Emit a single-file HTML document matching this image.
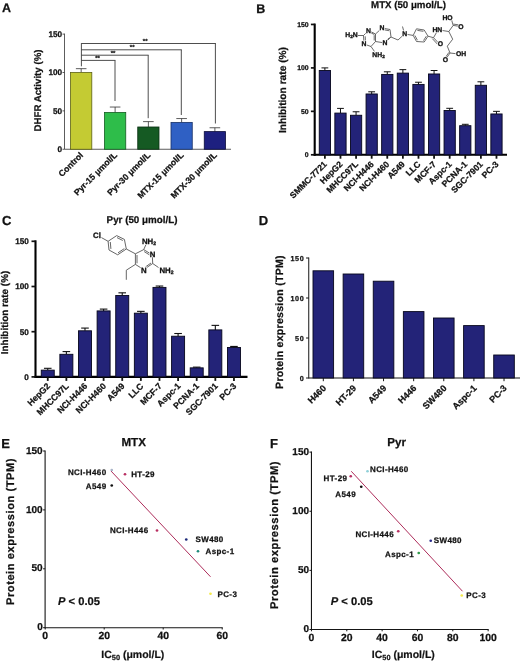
<!DOCTYPE html>
<html lang="en"><head><meta charset="utf-8"><title>Figure</title>
<style>
html,body{margin:0;padding:0;background:#fff;}
svg{display:block;text-rendering:geometricPrecision;font-family:'Liberation Sans', sans-serif;}
</style></head>
<body>
<svg width="520" height="662" viewBox="0 0 520 662">
<rect x="0" y="0" width="520" height="662" fill="#ffffff"/>
<text x="2.00" y="12.00" font-size="12.5" font-weight="bold" text-anchor="start" fill="#111" stroke="#111" stroke-width="0.25" >A</text>
<text x="256.30" y="12.50" font-size="12.5" font-weight="bold" text-anchor="start" fill="#111" stroke="#111" stroke-width="0.25" >B</text>
<text x="2.00" y="225.00" font-size="13" font-weight="bold" text-anchor="start" fill="#111" stroke="#111" stroke-width="0.25" >C</text>
<text x="258.70" y="225.00" font-size="13" font-weight="bold" text-anchor="start" fill="#111" stroke="#111" stroke-width="0.25" >D</text>
<text x="1.30" y="448.00" font-size="13" font-weight="bold" text-anchor="start" fill="#111" stroke="#111" stroke-width="0.25" >E</text>
<text x="270.00" y="448.00" font-size="13" font-weight="bold" text-anchor="start" fill="#111" stroke="#111" stroke-width="0.25" >F</text>
<line x1="64.50" y1="33.62" x2="64.50" y2="149.25" stroke="#333" stroke-width="0.8" />
<line x1="64.50" y1="149.25" x2="231.00" y2="149.25" stroke="#333" stroke-width="0.8" />
<line x1="62.50" y1="149.25" x2="64.50" y2="149.25" stroke="#333" stroke-width="0.8" />
<text x="62.10" y="152.15" font-size="8.2" font-weight="bold" text-anchor="end" fill="#111" stroke="#111" stroke-width="0.25" >0</text>
<line x1="62.50" y1="110.88" x2="64.50" y2="110.88" stroke="#333" stroke-width="0.8" />
<text x="62.10" y="113.78" font-size="8.2" font-weight="bold" text-anchor="end" fill="#111" stroke="#111" stroke-width="0.25" >50</text>
<line x1="62.50" y1="72.50" x2="64.50" y2="72.50" stroke="#333" stroke-width="0.8" />
<text x="62.10" y="75.40" font-size="8.2" font-weight="bold" text-anchor="end" fill="#111" stroke="#111" stroke-width="0.25" >100</text>
<line x1="62.50" y1="34.12" x2="64.50" y2="34.12" stroke="#333" stroke-width="0.8" />
<text x="62.10" y="37.02" font-size="8.2" font-weight="bold" text-anchor="end" fill="#111" stroke="#111" stroke-width="0.25" >150</text>
<text x="40.70" y="90.50" font-size="9.7" font-weight="bold" text-anchor="middle" fill="#111" stroke="#111" stroke-width="0.25" transform="rotate(-90 40.70 90.50)" >DHFR Activity (%)</text>
<line x1="81.17" y1="72.50" x2="81.17" y2="68.66" stroke="#333" stroke-width="0.8" />
<line x1="75.88" y1="68.66" x2="86.47" y2="68.66" stroke="#333" stroke-width="0.8" />
<rect x="70.55" y="72.50" width="21.25" height="76.75" fill="#c4cb33" stroke="#5d6114" stroke-width="0.8"/>
<text x="83.67" y="155.75" font-size="8.6" font-weight="bold" text-anchor="end" fill="#111" stroke="#111" stroke-width="0.25" transform="rotate(-45 83.67 155.75)" >Control</text>
<line x1="115.12" y1="112.41" x2="115.12" y2="107.04" stroke="#333" stroke-width="0.8" />
<line x1="109.83" y1="107.04" x2="120.42" y2="107.04" stroke="#333" stroke-width="0.8" />
<rect x="104.50" y="112.41" width="21.25" height="36.84" fill="#2ebd4a" stroke="#145c22" stroke-width="0.8"/>
<text x="117.62" y="155.75" font-size="8.6" font-weight="bold" text-anchor="end" fill="#111" stroke="#111" stroke-width="0.25" transform="rotate(-45 117.62 155.75)" >Pyr-15 μmol/L</text>
<line x1="148.38" y1="126.99" x2="148.38" y2="121.62" stroke="#333" stroke-width="0.8" />
<line x1="143.07" y1="121.62" x2="153.68" y2="121.62" stroke="#333" stroke-width="0.8" />
<rect x="137.75" y="126.99" width="21.25" height="22.26" fill="#155a23" stroke="#0a2e12" stroke-width="0.8"/>
<text x="150.88" y="155.75" font-size="8.6" font-weight="bold" text-anchor="end" fill="#111" stroke="#111" stroke-width="0.25" transform="rotate(-45 150.88 155.75)" >Pyr-30 μmol/L</text>
<line x1="181.62" y1="122.39" x2="181.62" y2="118.55" stroke="#333" stroke-width="0.8" />
<line x1="176.32" y1="118.55" x2="186.93" y2="118.55" stroke="#333" stroke-width="0.8" />
<rect x="171.00" y="122.39" width="21.25" height="26.86" fill="#2f60c4" stroke="#173066" stroke-width="0.8"/>
<text x="184.12" y="155.75" font-size="8.6" font-weight="bold" text-anchor="end" fill="#111" stroke="#111" stroke-width="0.25" transform="rotate(-45 184.12 155.75)" >MTX-15 μmol/L</text>
<line x1="214.88" y1="131.60" x2="214.88" y2="127.76" stroke="#333" stroke-width="0.8" />
<line x1="209.57" y1="127.76" x2="220.18" y2="127.76" stroke="#333" stroke-width="0.8" />
<rect x="204.25" y="131.60" width="21.25" height="17.65" fill="#1d2080" stroke="#0c0d3a" stroke-width="0.8"/>
<text x="217.38" y="155.75" font-size="8.6" font-weight="bold" text-anchor="end" fill="#111" stroke="#111" stroke-width="0.25" transform="rotate(-45 217.38 155.75)" >MTX-30 μmol/L</text>
<line x1="81.40" y1="43.10" x2="81.40" y2="66.30" stroke="#3a3a3a" stroke-width="0.9" />
<line x1="81.40" y1="60.40" x2="115.45" y2="60.40" stroke="#3a3a3a" stroke-width="0.9" />
<line x1="115.00" y1="60.40" x2="115.00" y2="101.00" stroke="#3a3a3a" stroke-width="0.9" />
<line x1="81.40" y1="55.20" x2="148.65" y2="55.20" stroke="#3a3a3a" stroke-width="0.9" />
<line x1="148.20" y1="55.20" x2="148.20" y2="118.20" stroke="#3a3a3a" stroke-width="0.9" />
<line x1="81.40" y1="49.80" x2="181.75" y2="49.80" stroke="#3a3a3a" stroke-width="0.9" />
<line x1="181.30" y1="49.80" x2="181.30" y2="115.00" stroke="#3a3a3a" stroke-width="0.9" />
<line x1="81.40" y1="43.50" x2="215.85" y2="43.50" stroke="#3a3a3a" stroke-width="0.9" />
<line x1="215.40" y1="43.50" x2="215.40" y2="123.50" stroke="#3a3a3a" stroke-width="0.9" />
<text x="97.50" y="59.80" font-size="6" font-weight="bold" text-anchor="middle" fill="#111" stroke="#111" stroke-width="0.25" >**</text>
<text x="113.00" y="54.60" font-size="6" font-weight="bold" text-anchor="middle" fill="#111" stroke="#111" stroke-width="0.25" >**</text>
<text x="132.20" y="49.20" font-size="6" font-weight="bold" text-anchor="middle" fill="#111" stroke="#111" stroke-width="0.25" >**</text>
<text x="145.20" y="42.60" font-size="6" font-weight="bold" text-anchor="middle" fill="#111" stroke="#111" stroke-width="0.25" >**</text>
<line x1="314.70" y1="23.55" x2="314.70" y2="155.85" stroke="#000" stroke-width="2.1" />
<line x1="313.65" y1="154.80" x2="507.00" y2="154.80" stroke="#000" stroke-width="2.1" />
<line x1="310.90" y1="154.80" x2="314.70" y2="154.80" stroke="#111" stroke-width="1.7" />
<text x="308.70" y="157.30" font-size="6.9" font-weight="bold" text-anchor="end" fill="#111" stroke="#111" stroke-width="0.25" >0</text>
<line x1="310.90" y1="111.35" x2="314.70" y2="111.35" stroke="#111" stroke-width="1.7" />
<text x="308.70" y="113.85" font-size="6.9" font-weight="bold" text-anchor="end" fill="#111" stroke="#111" stroke-width="0.25" >50</text>
<line x1="310.90" y1="67.90" x2="314.70" y2="67.90" stroke="#111" stroke-width="1.7" />
<text x="308.70" y="70.40" font-size="6.9" font-weight="bold" text-anchor="end" fill="#111" stroke="#111" stroke-width="0.25" >100</text>
<line x1="310.90" y1="24.45" x2="314.70" y2="24.45" stroke="#111" stroke-width="1.7" />
<text x="308.70" y="26.95" font-size="6.9" font-weight="bold" text-anchor="end" fill="#111" stroke="#111" stroke-width="0.25" >150</text>
<text x="286.30" y="90.00" font-size="10.2" font-weight="bold" text-anchor="middle" fill="#111" stroke="#111" stroke-width="0.25" transform="rotate(-90 286.30 90.00)" >Inhibition rate (%)</text>
<text x="408.50" y="7.60" font-size="9.7" font-weight="bold" text-anchor="middle" fill="#111" stroke="#111" stroke-width="0.25" >MTX (50 μmol/L)</text>
<line x1="324.88" y1="70.51" x2="324.88" y2="67.90" stroke="#111" stroke-width="1" />
<line x1="321.48" y1="67.90" x2="328.27" y2="67.90" stroke="#111" stroke-width="1" />
<rect x="319.25" y="70.51" width="11.25" height="84.29" fill="#232378" stroke="#06061c" stroke-width="0.9"/>
<line x1="324.88" y1="154.80" x2="324.88" y2="158.70" stroke="#111" stroke-width="1.8" />
<text x="327.48" y="164.80" font-size="8.6" font-weight="bold" text-anchor="end" fill="#111" stroke="#111" stroke-width="0.25" transform="rotate(-45 327.48 164.80)" >SMMC-7721</text>
<line x1="340.48" y1="113.09" x2="340.48" y2="108.40" stroke="#111" stroke-width="1" />
<line x1="337.08" y1="108.40" x2="343.88" y2="108.40" stroke="#111" stroke-width="1" />
<rect x="334.85" y="113.09" width="11.25" height="41.71" fill="#232378" stroke="#06061c" stroke-width="0.9"/>
<line x1="340.48" y1="154.80" x2="340.48" y2="158.70" stroke="#111" stroke-width="1.8" />
<text x="343.08" y="164.80" font-size="8.6" font-weight="bold" text-anchor="end" fill="#111" stroke="#111" stroke-width="0.25" transform="rotate(-45 343.08 164.80)" >HepG2</text>
<line x1="356.07" y1="115.26" x2="356.07" y2="111.78" stroke="#111" stroke-width="1" />
<line x1="352.68" y1="111.78" x2="359.47" y2="111.78" stroke="#111" stroke-width="1" />
<rect x="350.45" y="115.26" width="11.25" height="39.54" fill="#232378" stroke="#06061c" stroke-width="0.9"/>
<line x1="356.07" y1="154.80" x2="356.07" y2="158.70" stroke="#111" stroke-width="1.8" />
<text x="358.68" y="164.80" font-size="8.6" font-weight="bold" text-anchor="end" fill="#111" stroke="#111" stroke-width="0.25" transform="rotate(-45 358.68 164.80)" >MHCC97L</text>
<line x1="371.68" y1="93.97" x2="371.68" y2="91.80" stroke="#111" stroke-width="1" />
<line x1="368.28" y1="91.80" x2="375.07" y2="91.80" stroke="#111" stroke-width="1" />
<rect x="366.05" y="93.97" width="11.25" height="60.83" fill="#232378" stroke="#06061c" stroke-width="0.9"/>
<line x1="371.68" y1="154.80" x2="371.68" y2="158.70" stroke="#111" stroke-width="1.8" />
<text x="374.28" y="164.80" font-size="8.6" font-weight="bold" text-anchor="end" fill="#111" stroke="#111" stroke-width="0.25" transform="rotate(-45 374.28 164.80)" >NCI-H446</text>
<line x1="387.27" y1="74.42" x2="387.27" y2="71.81" stroke="#111" stroke-width="1" />
<line x1="383.88" y1="71.81" x2="390.67" y2="71.81" stroke="#111" stroke-width="1" />
<rect x="381.65" y="74.42" width="11.25" height="80.38" fill="#232378" stroke="#06061c" stroke-width="0.9"/>
<line x1="387.27" y1="154.80" x2="387.27" y2="158.70" stroke="#111" stroke-width="1.8" />
<text x="389.88" y="164.80" font-size="8.6" font-weight="bold" text-anchor="end" fill="#111" stroke="#111" stroke-width="0.25" transform="rotate(-45 389.88 164.80)" >NCI-H460</text>
<line x1="402.88" y1="73.11" x2="402.88" y2="69.64" stroke="#111" stroke-width="1" />
<line x1="399.48" y1="69.64" x2="406.27" y2="69.64" stroke="#111" stroke-width="1" />
<rect x="397.25" y="73.11" width="11.25" height="81.69" fill="#232378" stroke="#06061c" stroke-width="0.9"/>
<line x1="402.88" y1="154.80" x2="402.88" y2="158.70" stroke="#111" stroke-width="1.8" />
<text x="405.48" y="164.80" font-size="8.6" font-weight="bold" text-anchor="end" fill="#111" stroke="#111" stroke-width="0.25" transform="rotate(-45 405.48 164.80)" >A549</text>
<line x1="418.48" y1="84.41" x2="418.48" y2="82.24" stroke="#111" stroke-width="1" />
<line x1="415.08" y1="82.24" x2="421.88" y2="82.24" stroke="#111" stroke-width="1" />
<rect x="412.85" y="84.41" width="11.25" height="70.39" fill="#232378" stroke="#06061c" stroke-width="0.9"/>
<line x1="418.48" y1="154.80" x2="418.48" y2="158.70" stroke="#111" stroke-width="1.8" />
<text x="421.08" y="164.80" font-size="8.6" font-weight="bold" text-anchor="end" fill="#111" stroke="#111" stroke-width="0.25" transform="rotate(-45 421.08 164.80)" >LLC</text>
<line x1="434.07" y1="73.98" x2="434.07" y2="70.51" stroke="#111" stroke-width="1" />
<line x1="430.68" y1="70.51" x2="437.47" y2="70.51" stroke="#111" stroke-width="1" />
<rect x="428.45" y="73.98" width="11.25" height="80.82" fill="#232378" stroke="#06061c" stroke-width="0.9"/>
<line x1="434.07" y1="154.80" x2="434.07" y2="158.70" stroke="#111" stroke-width="1.8" />
<text x="436.68" y="164.80" font-size="8.6" font-weight="bold" text-anchor="end" fill="#111" stroke="#111" stroke-width="0.25" transform="rotate(-45 436.68 164.80)" >MCF-7</text>
<line x1="449.68" y1="110.48" x2="449.68" y2="108.31" stroke="#111" stroke-width="1" />
<line x1="446.28" y1="108.31" x2="453.07" y2="108.31" stroke="#111" stroke-width="1" />
<rect x="444.05" y="110.48" width="11.25" height="44.32" fill="#232378" stroke="#06061c" stroke-width="0.9"/>
<line x1="449.68" y1="154.80" x2="449.68" y2="158.70" stroke="#111" stroke-width="1.8" />
<text x="452.28" y="164.80" font-size="8.6" font-weight="bold" text-anchor="end" fill="#111" stroke="#111" stroke-width="0.25" transform="rotate(-45 452.28 164.80)" >Aspc-1</text>
<line x1="465.27" y1="125.69" x2="465.27" y2="124.30" stroke="#111" stroke-width="1" />
<line x1="461.88" y1="124.30" x2="468.67" y2="124.30" stroke="#111" stroke-width="1" />
<rect x="459.65" y="125.69" width="11.25" height="29.11" fill="#232378" stroke="#06061c" stroke-width="0.9"/>
<line x1="465.27" y1="154.80" x2="465.27" y2="158.70" stroke="#111" stroke-width="1.8" />
<text x="467.88" y="164.80" font-size="8.6" font-weight="bold" text-anchor="end" fill="#111" stroke="#111" stroke-width="0.25" transform="rotate(-45 467.88 164.80)" >PCNA-1</text>
<line x1="480.88" y1="85.28" x2="480.88" y2="81.80" stroke="#111" stroke-width="1" />
<line x1="477.48" y1="81.80" x2="484.27" y2="81.80" stroke="#111" stroke-width="1" />
<rect x="475.25" y="85.28" width="11.25" height="69.52" fill="#232378" stroke="#06061c" stroke-width="0.9"/>
<line x1="480.88" y1="154.80" x2="480.88" y2="158.70" stroke="#111" stroke-width="1.8" />
<text x="483.48" y="164.80" font-size="8.6" font-weight="bold" text-anchor="end" fill="#111" stroke="#111" stroke-width="0.25" transform="rotate(-45 483.48 164.80)" >SGC-7901</text>
<line x1="496.48" y1="113.96" x2="496.48" y2="111.35" stroke="#111" stroke-width="1" />
<line x1="493.08" y1="111.35" x2="499.88" y2="111.35" stroke="#111" stroke-width="1" />
<rect x="490.85" y="113.96" width="11.25" height="40.84" fill="#232378" stroke="#06061c" stroke-width="0.9"/>
<line x1="496.48" y1="154.80" x2="496.48" y2="158.70" stroke="#111" stroke-width="1.8" />
<text x="499.08" y="164.80" font-size="8.6" font-weight="bold" text-anchor="end" fill="#111" stroke="#111" stroke-width="0.25" transform="rotate(-45 499.08 164.80)" >PC-3</text>
<line x1="363.50" y1="35.50" x2="368.50" y2="30.50" stroke="#444" stroke-width="0.8" />
<line x1="368.50" y1="30.50" x2="375.50" y2="34.00" stroke="#444" stroke-width="0.8" />
<line x1="375.50" y1="34.00" x2="375.50" y2="41.50" stroke="#444" stroke-width="0.8" />
<line x1="375.50" y1="41.50" x2="371.00" y2="46.50" stroke="#444" stroke-width="0.8" />
<line x1="371.00" y1="46.50" x2="364.00" y2="44.00" stroke="#444" stroke-width="0.8" />
<line x1="364.00" y1="44.00" x2="363.50" y2="35.50" stroke="#444" stroke-width="0.8" />
<line x1="375.50" y1="34.00" x2="382.00" y2="28.00" stroke="#444" stroke-width="0.8" />
<line x1="382.00" y1="28.00" x2="390.00" y2="29.50" stroke="#444" stroke-width="0.8" />
<line x1="390.00" y1="29.50" x2="391.00" y2="37.00" stroke="#444" stroke-width="0.8" />
<line x1="391.00" y1="37.00" x2="385.00" y2="43.00" stroke="#444" stroke-width="0.8" />
<line x1="385.00" y1="43.00" x2="375.50" y2="41.50" stroke="#444" stroke-width="0.8" />
<line x1="358.00" y1="35.50" x2="363.50" y2="35.50" stroke="#444" stroke-width="0.8" />
<line x1="371.00" y1="46.50" x2="374.50" y2="51.50" stroke="#444" stroke-width="0.8" />
<line x1="391.00" y1="37.00" x2="398.00" y2="40.00" stroke="#444" stroke-width="0.8" />
<line x1="398.00" y1="40.00" x2="404.50" y2="34.00" stroke="#444" stroke-width="0.8" />
<line x1="404.50" y1="34.00" x2="402.50" y2="26.50" stroke="#444" stroke-width="0.8" />
<line x1="365.20" y1="36.30" x2="365.50" y2="42.60" stroke="#444" stroke-width="0.8" />
<line x1="374.20" y1="35.20" x2="374.20" y2="40.50" stroke="#444" stroke-width="0.8" />
<line x1="383.00" y1="29.60" x2="389.00" y2="30.70" stroke="#444" stroke-width="0.8" />
<line x1="389.60" y1="37.50" x2="385.20" y2="41.60" stroke="#444" stroke-width="0.8" />
<line x1="369.50" y1="32.20" x2="374.30" y2="34.50" stroke="#444" stroke-width="0.8" />
<line x1="413.20" y1="35.40" x2="416.50" y2="28.80" stroke="#444" stroke-width="0.8" />
<line x1="416.50" y1="28.80" x2="424.20" y2="30.00" stroke="#444" stroke-width="0.8" />
<line x1="424.20" y1="30.00" x2="428.00" y2="36.20" stroke="#444" stroke-width="0.8" />
<line x1="428.00" y1="36.20" x2="424.20" y2="42.00" stroke="#444" stroke-width="0.8" />
<line x1="424.20" y1="42.00" x2="416.50" y2="41.50" stroke="#444" stroke-width="0.8" />
<line x1="416.50" y1="41.50" x2="413.20" y2="35.40" stroke="#444" stroke-width="0.8" />
<line x1="417.40" y1="30.40" x2="423.40" y2="31.30" stroke="#444" stroke-width="0.8" />
<line x1="426.30" y1="36.20" x2="423.50" y2="40.60" stroke="#444" stroke-width="0.8" />
<line x1="414.90" y1="35.50" x2="417.40" y2="40.20" stroke="#444" stroke-width="0.8" />
<line x1="404.50" y1="34.00" x2="413.20" y2="35.40" stroke="#444" stroke-width="0.8" />
<line x1="428.00" y1="36.20" x2="433.50" y2="37.70" stroke="#444" stroke-width="0.8" />
<line x1="433.50" y1="37.70" x2="439.00" y2="43.50" stroke="#444" stroke-width="0.8" />
<line x1="432.30" y1="38.60" x2="437.60" y2="44.30" stroke="#444" stroke-width="0.8" />
<line x1="433.50" y1="37.70" x2="436.50" y2="32.50" stroke="#444" stroke-width="0.8" />
<line x1="441.00" y1="30.30" x2="448.80" y2="31.50" stroke="#444" stroke-width="0.8" />
<line x1="448.80" y1="31.50" x2="453.20" y2="25.40" stroke="#444" stroke-width="0.8" />
<line x1="453.20" y1="25.40" x2="451.60" y2="20.00" stroke="#444" stroke-width="0.8" />
<line x1="453.20" y1="25.40" x2="459.50" y2="26.40" stroke="#444" stroke-width="0.8" />
<line x1="453.40" y1="24.10" x2="459.60" y2="25.00" stroke="#444" stroke-width="0.8" />
<line x1="448.80" y1="31.50" x2="452.70" y2="39.20" stroke="#444" stroke-width="0.8" />
<line x1="452.70" y1="39.20" x2="447.30" y2="46.20" stroke="#444" stroke-width="0.8" />
<line x1="447.30" y1="46.20" x2="450.00" y2="53.00" stroke="#444" stroke-width="0.8" />
<line x1="450.00" y1="53.00" x2="457.00" y2="53.80" stroke="#444" stroke-width="0.8" />
<line x1="450.00" y1="53.00" x2="446.20" y2="58.50" stroke="#444" stroke-width="0.8" />
<line x1="448.90" y1="52.40" x2="445.20" y2="57.80" stroke="#444" stroke-width="0.8" />
<text x="368.50" y="32.50" font-size="6.8" font-weight="bold" text-anchor="middle" fill="#fff" stroke="#fff" stroke-width="1.6">N</text>
<text x="368.50" y="32.50" font-size="6.8" font-weight="bold" text-anchor="middle" fill="#111" stroke="#111" stroke-width="0.3">N</text>
<text x="364.00" y="46.00" font-size="6.8" font-weight="bold" text-anchor="middle" fill="#fff" stroke="#fff" stroke-width="1.6">N</text>
<text x="364.00" y="46.00" font-size="6.8" font-weight="bold" text-anchor="middle" fill="#111" stroke="#111" stroke-width="0.3">N</text>
<text x="382.00" y="30.00" font-size="6.8" font-weight="bold" text-anchor="middle" fill="#fff" stroke="#fff" stroke-width="1.6">N</text>
<text x="382.00" y="30.00" font-size="6.8" font-weight="bold" text-anchor="middle" fill="#111" stroke="#111" stroke-width="0.3">N</text>
<text x="385.00" y="45.00" font-size="6.8" font-weight="bold" text-anchor="middle" fill="#fff" stroke="#fff" stroke-width="1.6">N</text>
<text x="385.00" y="45.00" font-size="6.8" font-weight="bold" text-anchor="middle" fill="#111" stroke="#111" stroke-width="0.3">N</text>
<text x="351.50" y="37.00" font-size="6.8" font-weight="bold" text-anchor="middle" fill="#fff" stroke="#fff" stroke-width="1.6">H<tspan font-size="4.6" dy="1.2">2</tspan><tspan dy="-1.2">N</tspan></text>
<text x="351.50" y="37.00" font-size="6.8" font-weight="bold" text-anchor="middle" fill="#111" stroke="#111" stroke-width="0.3">H<tspan font-size="4.6" dy="1.2">2</tspan><tspan dy="-1.2">N</tspan></text>
<text x="378.50" y="57.00" font-size="6.8" font-weight="bold" text-anchor="middle" fill="#fff" stroke="#fff" stroke-width="1.6">NH<tspan font-size="4.6" dy="1.2">2</tspan></text>
<text x="378.50" y="57.00" font-size="6.8" font-weight="bold" text-anchor="middle" fill="#111" stroke="#111" stroke-width="0.3">NH<tspan font-size="4.6" dy="1.2">2</tspan></text>
<text x="404.80" y="36.00" font-size="6.8" font-weight="bold" text-anchor="middle" fill="#fff" stroke="#fff" stroke-width="1.6">N</text>
<text x="404.80" y="36.00" font-size="6.8" font-weight="bold" text-anchor="middle" fill="#111" stroke="#111" stroke-width="0.3">N</text>
<text x="437.30" y="32.00" font-size="6.8" font-weight="bold" text-anchor="middle" fill="#fff" stroke="#fff" stroke-width="1.6">HN</text>
<text x="437.30" y="32.00" font-size="6.8" font-weight="bold" text-anchor="middle" fill="#111" stroke="#111" stroke-width="0.3">HN</text>
<text x="440.30" y="46.30" font-size="6.8" font-weight="bold" text-anchor="middle" fill="#fff" stroke="#fff" stroke-width="1.6">O</text>
<text x="440.30" y="46.30" font-size="6.8" font-weight="bold" text-anchor="middle" fill="#111" stroke="#111" stroke-width="0.3">O</text>
<text x="447.50" y="19.70" font-size="6.8" font-weight="bold" text-anchor="middle" fill="#fff" stroke="#fff" stroke-width="1.6">HO</text>
<text x="447.50" y="19.70" font-size="6.8" font-weight="bold" text-anchor="middle" fill="#111" stroke="#111" stroke-width="0.3">HO</text>
<text x="461.00" y="28.60" font-size="6.8" font-weight="bold" text-anchor="middle" fill="#fff" stroke="#fff" stroke-width="1.6">O</text>
<text x="461.00" y="28.60" font-size="6.8" font-weight="bold" text-anchor="middle" fill="#111" stroke="#111" stroke-width="0.3">O</text>
<text x="461.00" y="55.80" font-size="6.8" font-weight="bold" text-anchor="middle" fill="#fff" stroke="#fff" stroke-width="1.6">OH</text>
<text x="461.00" y="55.80" font-size="6.8" font-weight="bold" text-anchor="middle" fill="#111" stroke="#111" stroke-width="0.3">OH</text>
<text x="445.30" y="61.50" font-size="6.8" font-weight="bold" text-anchor="middle" fill="#fff" stroke="#fff" stroke-width="1.6">O</text>
<text x="445.30" y="61.50" font-size="6.8" font-weight="bold" text-anchor="middle" fill="#111" stroke="#111" stroke-width="0.3">O</text>
<line x1="35.50" y1="240.30" x2="35.50" y2="377.90" stroke="#000" stroke-width="2.1" />
<line x1="34.50" y1="376.90" x2="247.50" y2="376.90" stroke="#000" stroke-width="2.1" />
<line x1="31.50" y1="376.90" x2="35.50" y2="376.90" stroke="#111" stroke-width="1.7" />
<text x="28.90" y="379.80" font-size="8.2" font-weight="bold" text-anchor="end" fill="#111" stroke="#111" stroke-width="0.25" >0</text>
<line x1="31.50" y1="331.70" x2="35.50" y2="331.70" stroke="#111" stroke-width="1.7" />
<text x="28.90" y="334.60" font-size="8.2" font-weight="bold" text-anchor="end" fill="#111" stroke="#111" stroke-width="0.25" >50</text>
<line x1="31.50" y1="286.50" x2="35.50" y2="286.50" stroke="#111" stroke-width="1.7" />
<text x="28.90" y="289.40" font-size="8.2" font-weight="bold" text-anchor="end" fill="#111" stroke="#111" stroke-width="0.25" >100</text>
<line x1="31.50" y1="241.30" x2="35.50" y2="241.30" stroke="#111" stroke-width="1.7" />
<text x="28.90" y="244.20" font-size="8.2" font-weight="bold" text-anchor="end" fill="#111" stroke="#111" stroke-width="0.25" >150</text>
<text x="8.40" y="312.50" font-size="9.9" font-weight="bold" text-anchor="middle" fill="#111" stroke="#111" stroke-width="0.25" transform="rotate(-90 8.40 312.50)" >Inhibition rate (%)</text>
<text x="142.00" y="223.30" font-size="9.8" font-weight="bold" text-anchor="middle" fill="#111" stroke="#111" stroke-width="0.25" >Pyr (50 μmol/L)</text>
<line x1="47.75" y1="370.12" x2="47.75" y2="368.31" stroke="#111" stroke-width="1.1" />
<line x1="43.95" y1="368.31" x2="51.55" y2="368.31" stroke="#111" stroke-width="1.1" />
<rect x="41.25" y="370.12" width="13.00" height="6.78" fill="#232378" stroke="#06061c" stroke-width="0.9"/>
<line x1="47.75" y1="376.90" x2="47.75" y2="380.90" stroke="#111" stroke-width="1.8" />
<text x="50.75" y="386.70" font-size="8.7" font-weight="bold" text-anchor="end" fill="#111" stroke="#111" stroke-width="0.25" transform="rotate(-45 50.75 386.70)" >HepG2</text>
<line x1="66.37" y1="354.30" x2="66.37" y2="351.59" stroke="#111" stroke-width="1.1" />
<line x1="62.57" y1="351.59" x2="70.17" y2="351.59" stroke="#111" stroke-width="1.1" />
<rect x="59.87" y="354.30" width="13.00" height="22.60" fill="#232378" stroke="#06061c" stroke-width="0.9"/>
<line x1="66.37" y1="376.90" x2="66.37" y2="380.90" stroke="#111" stroke-width="1.8" />
<text x="69.37" y="386.70" font-size="8.7" font-weight="bold" text-anchor="end" fill="#111" stroke="#111" stroke-width="0.25" transform="rotate(-45 69.37 386.70)" >MHCC97L</text>
<line x1="84.99" y1="330.80" x2="84.99" y2="328.08" stroke="#111" stroke-width="1.1" />
<line x1="81.19" y1="328.08" x2="88.79" y2="328.08" stroke="#111" stroke-width="1.1" />
<rect x="78.49" y="330.80" width="13.00" height="46.10" fill="#232378" stroke="#06061c" stroke-width="0.9"/>
<line x1="84.99" y1="376.90" x2="84.99" y2="380.90" stroke="#111" stroke-width="1.8" />
<text x="87.99" y="386.70" font-size="8.7" font-weight="bold" text-anchor="end" fill="#111" stroke="#111" stroke-width="0.25" transform="rotate(-45 87.99 386.70)" >NCI-H446</text>
<line x1="103.61" y1="310.91" x2="103.61" y2="309.10" stroke="#111" stroke-width="1.1" />
<line x1="99.81" y1="309.10" x2="107.41" y2="309.10" stroke="#111" stroke-width="1.1" />
<rect x="97.11" y="310.91" width="13.00" height="65.99" fill="#232378" stroke="#06061c" stroke-width="0.9"/>
<line x1="103.61" y1="376.90" x2="103.61" y2="380.90" stroke="#111" stroke-width="1.8" />
<text x="106.61" y="386.70" font-size="8.7" font-weight="bold" text-anchor="end" fill="#111" stroke="#111" stroke-width="0.25" transform="rotate(-45 106.61 386.70)" >NCI-H460</text>
<line x1="122.23" y1="295.54" x2="122.23" y2="292.83" stroke="#111" stroke-width="1.1" />
<line x1="118.43" y1="292.83" x2="126.03" y2="292.83" stroke="#111" stroke-width="1.1" />
<rect x="115.73" y="295.54" width="13.00" height="81.36" fill="#232378" stroke="#06061c" stroke-width="0.9"/>
<line x1="122.23" y1="376.90" x2="122.23" y2="380.90" stroke="#111" stroke-width="1.8" />
<text x="125.23" y="386.70" font-size="8.7" font-weight="bold" text-anchor="end" fill="#111" stroke="#111" stroke-width="0.25" transform="rotate(-45 125.23 386.70)" >A549</text>
<line x1="140.85" y1="313.17" x2="140.85" y2="311.36" stroke="#111" stroke-width="1.1" />
<line x1="137.05" y1="311.36" x2="144.65" y2="311.36" stroke="#111" stroke-width="1.1" />
<rect x="134.35" y="313.17" width="13.00" height="63.73" fill="#232378" stroke="#06061c" stroke-width="0.9"/>
<line x1="140.85" y1="376.90" x2="140.85" y2="380.90" stroke="#111" stroke-width="1.8" />
<text x="143.85" y="386.70" font-size="8.7" font-weight="bold" text-anchor="end" fill="#111" stroke="#111" stroke-width="0.25" transform="rotate(-45 143.85 386.70)" >LLC</text>
<line x1="159.47" y1="287.40" x2="159.47" y2="286.05" stroke="#111" stroke-width="1.1" />
<line x1="155.67" y1="286.05" x2="163.27" y2="286.05" stroke="#111" stroke-width="1.1" />
<rect x="152.97" y="287.40" width="13.00" height="89.50" fill="#232378" stroke="#06061c" stroke-width="0.9"/>
<line x1="159.47" y1="376.90" x2="159.47" y2="380.90" stroke="#111" stroke-width="1.8" />
<text x="162.47" y="386.70" font-size="8.7" font-weight="bold" text-anchor="end" fill="#111" stroke="#111" stroke-width="0.25" transform="rotate(-45 162.47 386.70)" >MCF-7</text>
<line x1="178.09" y1="336.22" x2="178.09" y2="333.51" stroke="#111" stroke-width="1.1" />
<line x1="174.29" y1="333.51" x2="181.89" y2="333.51" stroke="#111" stroke-width="1.1" />
<rect x="171.59" y="336.22" width="13.00" height="40.68" fill="#232378" stroke="#06061c" stroke-width="0.9"/>
<line x1="178.09" y1="376.90" x2="178.09" y2="380.90" stroke="#111" stroke-width="1.8" />
<text x="181.09" y="386.70" font-size="8.7" font-weight="bold" text-anchor="end" fill="#111" stroke="#111" stroke-width="0.25" transform="rotate(-45 181.09 386.70)" >Aspc-1</text>
<line x1="196.71" y1="367.86" x2="196.71" y2="367.14" stroke="#111" stroke-width="1.1" />
<line x1="192.91" y1="367.14" x2="200.51" y2="367.14" stroke="#111" stroke-width="1.1" />
<rect x="190.21" y="367.86" width="13.00" height="9.04" fill="#232378" stroke="#06061c" stroke-width="0.9"/>
<line x1="196.71" y1="376.90" x2="196.71" y2="380.90" stroke="#111" stroke-width="1.8" />
<text x="199.71" y="386.70" font-size="8.7" font-weight="bold" text-anchor="end" fill="#111" stroke="#111" stroke-width="0.25" transform="rotate(-45 199.71 386.70)" >PCNA-1</text>
<line x1="215.33" y1="329.89" x2="215.33" y2="325.37" stroke="#111" stroke-width="1.1" />
<line x1="211.53" y1="325.37" x2="219.13" y2="325.37" stroke="#111" stroke-width="1.1" />
<rect x="208.83" y="329.89" width="13.00" height="47.01" fill="#232378" stroke="#06061c" stroke-width="0.9"/>
<line x1="215.33" y1="376.90" x2="215.33" y2="380.90" stroke="#111" stroke-width="1.8" />
<text x="218.33" y="386.70" font-size="8.7" font-weight="bold" text-anchor="end" fill="#111" stroke="#111" stroke-width="0.25" transform="rotate(-45 218.33 386.70)" >SGC-7901</text>
<line x1="233.95" y1="347.52" x2="233.95" y2="346.44" stroke="#111" stroke-width="1.1" />
<line x1="230.15" y1="346.44" x2="237.75" y2="346.44" stroke="#111" stroke-width="1.1" />
<rect x="227.45" y="347.52" width="13.00" height="29.38" fill="#232378" stroke="#06061c" stroke-width="0.9"/>
<line x1="233.95" y1="376.90" x2="233.95" y2="380.90" stroke="#111" stroke-width="1.8" />
<text x="236.95" y="386.70" font-size="8.7" font-weight="bold" text-anchor="end" fill="#111" stroke="#111" stroke-width="0.25" transform="rotate(-45 236.95 386.70)" >PC-3</text>
<line x1="108.10" y1="241.30" x2="116.70" y2="235.60" stroke="#555" stroke-width="0.9" />
<line x1="116.70" y1="235.60" x2="124.40" y2="239.40" stroke="#555" stroke-width="0.9" />
<line x1="124.40" y1="239.40" x2="126.30" y2="249.00" stroke="#555" stroke-width="0.9" />
<line x1="126.30" y1="249.00" x2="117.70" y2="254.80" stroke="#555" stroke-width="0.9" />
<line x1="117.70" y1="254.80" x2="109.00" y2="250.00" stroke="#555" stroke-width="0.9" />
<line x1="109.00" y1="250.00" x2="108.10" y2="241.30" stroke="#555" stroke-width="0.9" />
<line x1="110.30" y1="242.00" x2="110.90" y2="248.90" stroke="#555" stroke-width="0.9" />
<line x1="117.00" y1="237.60" x2="122.80" y2="240.50" stroke="#555" stroke-width="0.9" />
<line x1="124.30" y1="248.60" x2="118.00" y2="252.80" stroke="#555" stroke-width="0.9" />
<line x1="101.30" y1="237.50" x2="108.10" y2="241.30" stroke="#555" stroke-width="0.9" />
<line x1="126.30" y1="249.00" x2="135.40" y2="253.80" stroke="#555" stroke-width="0.9" />
<line x1="135.40" y1="253.80" x2="143.70" y2="249.60" stroke="#555" stroke-width="0.9" />
<line x1="143.70" y1="249.60" x2="152.30" y2="254.80" stroke="#555" stroke-width="0.9" />
<line x1="152.30" y1="254.80" x2="152.70" y2="263.50" stroke="#555" stroke-width="0.9" />
<line x1="152.70" y1="263.50" x2="143.70" y2="269.60" stroke="#555" stroke-width="0.9" />
<line x1="143.70" y1="269.60" x2="135.40" y2="264.40" stroke="#555" stroke-width="0.9" />
<line x1="135.40" y1="264.40" x2="135.40" y2="253.80" stroke="#555" stroke-width="0.9" />
<line x1="137.00" y1="255.00" x2="137.00" y2="263.30" stroke="#555" stroke-width="0.9" />
<line x1="144.20" y1="251.60" x2="150.00" y2="255.20" stroke="#555" stroke-width="0.9" />
<line x1="151.00" y1="263.00" x2="145.50" y2="266.90" stroke="#555" stroke-width="0.9" />
<line x1="143.70" y1="249.60" x2="146.00" y2="244.50" stroke="#555" stroke-width="0.9" />
<line x1="152.70" y1="263.50" x2="158.50" y2="267.50" stroke="#555" stroke-width="0.9" />
<line x1="135.40" y1="264.40" x2="126.30" y2="270.20" stroke="#555" stroke-width="0.9" />
<line x1="126.30" y1="270.20" x2="126.30" y2="279.80" stroke="#555" stroke-width="0.9" />
<text x="97.00" y="238.20" font-size="7.8" font-weight="bold" text-anchor="middle" fill="#fff" stroke="#fff" stroke-width="1.6">Cl</text>
<text x="97.00" y="238.20" font-size="7.8" font-weight="bold" text-anchor="middle" fill="#111" stroke="#111" stroke-width="0.3">Cl</text>
<text x="152.50" y="257.40" font-size="7.8" font-weight="bold" text-anchor="middle" fill="#fff" stroke="#fff" stroke-width="1.6">N</text>
<text x="152.50" y="257.40" font-size="7.8" font-weight="bold" text-anchor="middle" fill="#111" stroke="#111" stroke-width="0.3">N</text>
<text x="143.70" y="272.60" font-size="7.8" font-weight="bold" text-anchor="middle" fill="#fff" stroke="#fff" stroke-width="1.6">N</text>
<text x="143.70" y="272.60" font-size="7.8" font-weight="bold" text-anchor="middle" fill="#111" stroke="#111" stroke-width="0.3">N</text>
<text x="149.00" y="243.80" font-size="7.8" font-weight="bold" text-anchor="middle" fill="#fff" stroke="#fff" stroke-width="1.6">NH<tspan font-size="5" dy="1.5">2</tspan></text>
<text x="149.00" y="243.80" font-size="7.8" font-weight="bold" text-anchor="middle" fill="#111" stroke="#111" stroke-width="0.3">NH<tspan font-size="5" dy="1.5">2</tspan></text>
<text x="166.50" y="272.80" font-size="7.8" font-weight="bold" text-anchor="middle" fill="#fff" stroke="#fff" stroke-width="1.6">NH<tspan font-size="5" dy="1.5">2</tspan></text>
<text x="166.50" y="272.80" font-size="7.8" font-weight="bold" text-anchor="middle" fill="#111" stroke="#111" stroke-width="0.3">NH<tspan font-size="5" dy="1.5">2</tspan></text>
<line x1="308.75" y1="257.50" x2="308.75" y2="378.50" stroke="#151515" stroke-width="1" />
<line x1="308.75" y1="378.00" x2="520.00" y2="378.00" stroke="#151515" stroke-width="1.1" />
<line x1="306.05" y1="378.00" x2="308.75" y2="378.00" stroke="#151515" stroke-width="1" />
<text x="304.25" y="381.10" font-size="7.2" font-weight="bold" text-anchor="end" fill="#111" stroke="#111" stroke-width="0.25" letter-spacing="0.6" >0</text>
<line x1="306.05" y1="338.00" x2="308.75" y2="338.00" stroke="#151515" stroke-width="1" />
<text x="304.25" y="341.10" font-size="7.2" font-weight="bold" text-anchor="end" fill="#111" stroke="#111" stroke-width="0.25" letter-spacing="0.6" >50</text>
<line x1="306.05" y1="298.00" x2="308.75" y2="298.00" stroke="#151515" stroke-width="1" />
<text x="304.25" y="301.10" font-size="7.2" font-weight="bold" text-anchor="end" fill="#111" stroke="#111" stroke-width="0.25" letter-spacing="0.6" >100</text>
<line x1="306.05" y1="258.00" x2="308.75" y2="258.00" stroke="#151515" stroke-width="1" />
<text x="304.25" y="261.10" font-size="7.2" font-weight="bold" text-anchor="end" fill="#111" stroke="#111" stroke-width="0.25" letter-spacing="0.6" >150</text>
<text x="282.60" y="322.00" font-size="10.6" font-weight="bold" text-anchor="middle" fill="#111" stroke="#111" stroke-width="0.25" letter-spacing="0.25" transform="rotate(-90 282.60 322.00)" >Protein expression (TPM)</text>
<rect x="313.00" y="270.80" width="20.60" height="107.20" fill="#232378" stroke="#06061c" stroke-width="0.9"/>
<line x1="323.30" y1="378.00" x2="323.30" y2="381.20" stroke="#151515" stroke-width="1" />
<text x="326.70" y="388.80" font-size="9" font-weight="bold" text-anchor="end" fill="#111" stroke="#111" stroke-width="0.25" transform="rotate(-45 326.70 388.80)" >H460</text>
<rect x="343.12" y="274.00" width="20.60" height="104.00" fill="#232378" stroke="#06061c" stroke-width="0.9"/>
<line x1="353.42" y1="378.00" x2="353.42" y2="381.20" stroke="#151515" stroke-width="1" />
<text x="356.82" y="388.80" font-size="9" font-weight="bold" text-anchor="end" fill="#111" stroke="#111" stroke-width="0.25" transform="rotate(-45 356.82 388.80)" >HT-29</text>
<rect x="373.24" y="281.20" width="20.60" height="96.80" fill="#232378" stroke="#06061c" stroke-width="0.9"/>
<line x1="383.54" y1="378.00" x2="383.54" y2="381.20" stroke="#151515" stroke-width="1" />
<text x="386.94" y="388.80" font-size="9" font-weight="bold" text-anchor="end" fill="#111" stroke="#111" stroke-width="0.25" transform="rotate(-45 386.94 388.80)" >A549</text>
<rect x="403.36" y="311.60" width="20.60" height="66.40" fill="#232378" stroke="#06061c" stroke-width="0.9"/>
<line x1="413.66" y1="378.00" x2="413.66" y2="381.20" stroke="#151515" stroke-width="1" />
<text x="417.06" y="388.80" font-size="9" font-weight="bold" text-anchor="end" fill="#111" stroke="#111" stroke-width="0.25" transform="rotate(-45 417.06 388.80)" >H446</text>
<rect x="433.48" y="318.00" width="20.60" height="60.00" fill="#232378" stroke="#06061c" stroke-width="0.9"/>
<line x1="443.78" y1="378.00" x2="443.78" y2="381.20" stroke="#151515" stroke-width="1" />
<text x="447.18" y="388.80" font-size="9" font-weight="bold" text-anchor="end" fill="#111" stroke="#111" stroke-width="0.25" transform="rotate(-45 447.18 388.80)" >SW480</text>
<rect x="463.60" y="325.60" width="20.60" height="52.40" fill="#232378" stroke="#06061c" stroke-width="0.9"/>
<line x1="473.90" y1="378.00" x2="473.90" y2="381.20" stroke="#151515" stroke-width="1" />
<text x="477.30" y="388.80" font-size="9" font-weight="bold" text-anchor="end" fill="#111" stroke="#111" stroke-width="0.25" transform="rotate(-45 477.30 388.80)" >Aspc-1</text>
<rect x="493.72" y="355.00" width="20.60" height="23.00" fill="#232378" stroke="#06061c" stroke-width="0.9"/>
<line x1="504.02" y1="378.00" x2="504.02" y2="381.20" stroke="#151515" stroke-width="1" />
<text x="507.42" y="388.80" font-size="9" font-weight="bold" text-anchor="end" fill="#111" stroke="#111" stroke-width="0.25" transform="rotate(-45 507.42 388.80)" >PC-3</text>
<line x1="45.10" y1="450.50" x2="45.10" y2="628.20" stroke="#151515" stroke-width="1.1" />
<line x1="45.10" y1="627.70" x2="222.70" y2="627.70" stroke="#151515" stroke-width="1.1" />
<line x1="43.10" y1="627.70" x2="45.10" y2="627.70" stroke="#151515" stroke-width="1" />
<text x="42.70" y="630.30" font-size="10" font-weight="bold" text-anchor="end" fill="#111" stroke="#111" stroke-width="0.25" >0</text>
<line x1="43.10" y1="568.80" x2="45.10" y2="568.80" stroke="#151515" stroke-width="1" />
<text x="42.70" y="571.40" font-size="10" font-weight="bold" text-anchor="end" fill="#111" stroke="#111" stroke-width="0.25" >50</text>
<line x1="43.10" y1="509.90" x2="45.10" y2="509.90" stroke="#151515" stroke-width="1" />
<text x="42.70" y="512.50" font-size="10" font-weight="bold" text-anchor="end" fill="#111" stroke="#111" stroke-width="0.25" >100</text>
<line x1="43.10" y1="451.00" x2="45.10" y2="451.00" stroke="#151515" stroke-width="1" />
<text x="42.70" y="453.60" font-size="10" font-weight="bold" text-anchor="end" fill="#111" stroke="#111" stroke-width="0.25" >150</text>
<line x1="45.20" y1="627.70" x2="45.20" y2="629.50" stroke="#151515" stroke-width="1" />
<text x="45.20" y="639.40" font-size="10.4" font-weight="bold" text-anchor="middle" fill="#111" stroke="#111" stroke-width="0.25" >0</text>
<line x1="104.20" y1="627.70" x2="104.20" y2="629.50" stroke="#151515" stroke-width="1" />
<text x="104.20" y="639.40" font-size="10.4" font-weight="bold" text-anchor="middle" fill="#111" stroke="#111" stroke-width="0.25" >20</text>
<line x1="163.20" y1="627.70" x2="163.20" y2="629.50" stroke="#151515" stroke-width="1" />
<text x="163.20" y="639.40" font-size="10.4" font-weight="bold" text-anchor="middle" fill="#111" stroke="#111" stroke-width="0.25" >40</text>
<line x1="222.20" y1="627.70" x2="222.20" y2="629.50" stroke="#151515" stroke-width="1" />
<text x="222.20" y="639.40" font-size="10.4" font-weight="bold" text-anchor="middle" fill="#111" stroke="#111" stroke-width="0.25" >60</text>
<text x="14.00" y="531.50" font-size="11.1" font-weight="bold" text-anchor="middle" fill="#111" stroke="#111" stroke-width="0.25" letter-spacing="0.55" transform="rotate(-90 14.00 531.50)" >Protein expression (TPM)</text>
<text x="133.70" y="446.30" font-size="11.6" font-weight="bold" text-anchor="middle" fill="#111" stroke="#111" stroke-width="0.25" >MTX</text>
<line x1="111.00" y1="471.00" x2="210.50" y2="576.75" stroke="#ad2c5a" stroke-width="1.0" />
<circle cx="111.75" cy="470.00" r="1.35" fill="#a9b4c8"/>
<text x="106.50" y="474.65" font-size="8" font-weight="bold" text-anchor="end" fill="#111" stroke="#111" stroke-width="0.25" letter-spacing="0.38" >NCI-H460</text>
<circle cx="125.00" cy="474.25" r="1.35" fill="#b92f62"/>
<text x="131.20" y="477.30" font-size="8" font-weight="bold" text-anchor="start" fill="#111" stroke="#111" stroke-width="0.25" letter-spacing="0.38" >HT-29</text>
<circle cx="111.75" cy="485.50" r="1.35" fill="#111"/>
<text x="106.50" y="488.90" font-size="8" font-weight="bold" text-anchor="end" fill="#111" stroke="#111" stroke-width="0.25" letter-spacing="0.38" >A549</text>
<circle cx="157.00" cy="530.50" r="1.35" fill="#b92f62"/>
<text x="148.50" y="533.40" font-size="8" font-weight="bold" text-anchor="end" fill="#111" stroke="#111" stroke-width="0.25" letter-spacing="0.38" >NCI-H446</text>
<circle cx="186.25" cy="539.50" r="1.35" fill="#1d2a7a"/>
<text x="195.50" y="542.40" font-size="8" font-weight="bold" text-anchor="start" fill="#111" stroke="#111" stroke-width="0.25" letter-spacing="0.38" >SW480</text>
<circle cx="198.00" cy="551.25" r="1.35" fill="#1f8a7a"/>
<text x="205.50" y="554.15" font-size="8" font-weight="bold" text-anchor="start" fill="#111" stroke="#111" stroke-width="0.25" letter-spacing="0.38" >Aspc-1</text>
<circle cx="210.50" cy="593.75" r="1.35" fill="#f4ea4a"/>
<text x="217.50" y="596.65" font-size="8" font-weight="bold" text-anchor="start" fill="#111" stroke="#111" stroke-width="0.25" letter-spacing="0.38" >PC-3</text>
<text x="58.00" y="605.30" font-size="11.2" font-weight="bold" fill="#111" stroke="#111" stroke-width="0.2"><tspan font-style="italic">P</tspan> &lt; 0.05</text>
<text x="101.30" y="658" font-size="10.5" font-weight="bold" fill="#111" stroke="#111" stroke-width="0.2">IC<tspan font-size="7.4" dy="2">50</tspan><tspan dy="-2"> (μmol/L)</tspan></text>
<line x1="311.45" y1="451.62" x2="311.45" y2="630.00" stroke="#151515" stroke-width="1.1" />
<line x1="311.45" y1="629.50" x2="488.65" y2="629.50" stroke="#151515" stroke-width="1.1" />
<line x1="309.45" y1="629.50" x2="311.45" y2="629.50" stroke="#151515" stroke-width="1" />
<text x="309.05" y="632.10" font-size="10" font-weight="bold" text-anchor="end" fill="#111" stroke="#111" stroke-width="0.25" >0</text>
<line x1="309.45" y1="570.38" x2="311.45" y2="570.38" stroke="#151515" stroke-width="1" />
<text x="309.05" y="572.98" font-size="10" font-weight="bold" text-anchor="end" fill="#111" stroke="#111" stroke-width="0.25" >50</text>
<line x1="309.45" y1="511.25" x2="311.45" y2="511.25" stroke="#151515" stroke-width="1" />
<text x="309.05" y="513.85" font-size="10" font-weight="bold" text-anchor="end" fill="#111" stroke="#111" stroke-width="0.25" >100</text>
<line x1="309.45" y1="452.12" x2="311.45" y2="452.12" stroke="#151515" stroke-width="1" />
<text x="309.05" y="454.73" font-size="10" font-weight="bold" text-anchor="end" fill="#111" stroke="#111" stroke-width="0.25" >150</text>
<line x1="311.45" y1="629.50" x2="311.45" y2="631.30" stroke="#151515" stroke-width="1" />
<text x="311.45" y="641.20" font-size="10.4" font-weight="bold" text-anchor="middle" fill="#111" stroke="#111" stroke-width="0.25" >0</text>
<line x1="346.79" y1="629.50" x2="346.79" y2="631.30" stroke="#151515" stroke-width="1" />
<text x="346.79" y="641.20" font-size="10.4" font-weight="bold" text-anchor="middle" fill="#111" stroke="#111" stroke-width="0.25" >20</text>
<line x1="382.13" y1="629.50" x2="382.13" y2="631.30" stroke="#151515" stroke-width="1" />
<text x="382.13" y="641.20" font-size="10.4" font-weight="bold" text-anchor="middle" fill="#111" stroke="#111" stroke-width="0.25" >40</text>
<line x1="417.47" y1="629.50" x2="417.47" y2="631.30" stroke="#151515" stroke-width="1" />
<text x="417.47" y="641.20" font-size="10.4" font-weight="bold" text-anchor="middle" fill="#111" stroke="#111" stroke-width="0.25" >60</text>
<line x1="452.81" y1="629.50" x2="452.81" y2="631.30" stroke="#151515" stroke-width="1" />
<text x="452.81" y="641.20" font-size="10.4" font-weight="bold" text-anchor="middle" fill="#111" stroke="#111" stroke-width="0.25" >80</text>
<line x1="488.15" y1="629.50" x2="488.15" y2="631.30" stroke="#151515" stroke-width="1" />
<text x="488.15" y="641.20" font-size="10.4" font-weight="bold" text-anchor="middle" fill="#111" stroke="#111" stroke-width="0.25" >100</text>
<text x="277.50" y="535.00" font-size="11.2" font-weight="bold" text-anchor="middle" fill="#111" stroke="#111" stroke-width="0.25" letter-spacing="0.55" transform="rotate(-90 277.50 535.00)" >Protein expression (TPM)</text>
<text x="396.60" y="446.30" font-size="11.6" font-weight="bold" text-anchor="middle" fill="#111" stroke="#111" stroke-width="0.25" >Pyr</text>
<line x1="351.25" y1="471.25" x2="462.50" y2="591.25" stroke="#ad2c5a" stroke-width="1.0" />
<circle cx="367.50" cy="471.25" r="1.35" fill="#8fd0d8"/>
<text x="370.00" y="472.15" font-size="8" font-weight="bold" text-anchor="start" fill="#111" stroke="#111" stroke-width="0.25" letter-spacing="0.38" >NCI-H460</text>
<circle cx="350.75" cy="476.25" r="1.35" fill="#b92f62"/>
<text x="347.30" y="480.90" font-size="8" font-weight="bold" text-anchor="end" fill="#111" stroke="#111" stroke-width="0.25" letter-spacing="0.38" >HT-29</text>
<circle cx="361.25" cy="486.75" r="1.35" fill="#111"/>
<text x="356.00" y="497.15" font-size="8" font-weight="bold" text-anchor="end" fill="#111" stroke="#111" stroke-width="0.25" letter-spacing="0.38" >A549</text>
<circle cx="398.25" cy="531.25" r="1.35" fill="#b92f62"/>
<text x="394.00" y="537.40" font-size="8" font-weight="bold" text-anchor="end" fill="#111" stroke="#111" stroke-width="0.25" letter-spacing="0.38" >NCI-H446</text>
<circle cx="430.75" cy="540.75" r="1.35" fill="#2a2a8a"/>
<text x="433.80" y="542.90" font-size="8" font-weight="bold" text-anchor="start" fill="#111" stroke="#111" stroke-width="0.25" letter-spacing="0.38" >SW480</text>
<circle cx="418.75" cy="553.00" r="1.35" fill="#2f9a4a"/>
<text x="414.00" y="556.65" font-size="8" font-weight="bold" text-anchor="end" fill="#111" stroke="#111" stroke-width="0.25" letter-spacing="0.38" >Aspc-1</text>
<circle cx="461.75" cy="595.50" r="1.35" fill="#f4ea4a"/>
<text x="466.30" y="598.40" font-size="8" font-weight="bold" text-anchor="start" fill="#111" stroke="#111" stroke-width="0.25" letter-spacing="0.38" >PC-3</text>
<text x="330.80" y="605.30" font-size="11.2" font-weight="bold" fill="#111" stroke="#111" stroke-width="0.2"><tspan font-style="italic">P</tspan> &lt; 0.05</text>
<text x="371.80" y="658" font-size="10.5" font-weight="bold" fill="#111" stroke="#111" stroke-width="0.2">IC<tspan font-size="7.4" dy="2">50</tspan><tspan dy="-2"> (μmol/L)</tspan></text>
</svg>
</body></html>
